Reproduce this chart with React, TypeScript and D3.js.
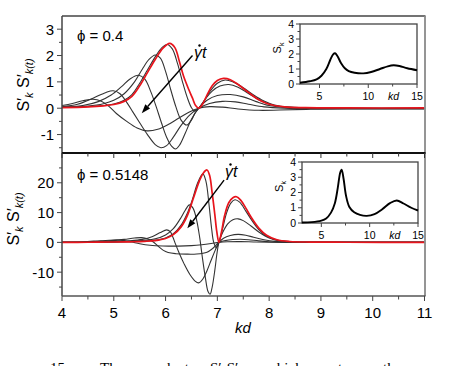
import React from 'react';
import * as d3 from 'd3';

type Pt = [number, number];

// ---------- tick values ----------
const xMajor = [4, 5, 6, 7, 8, 9, 10, 11];
const xMinor = [4.5, 5.5, 6.5, 7.5, 8.5, 9.5, 10.5];
const topYMajor = [-1, 0, 1, 2, 3];
const topYMinor = [-1.5, -0.5, 0.5, 1.5, 2.5];
const botYMajor = [-10, 0, 10, 20];
const botYMinor = [-15, -5, 5, 15, 25];
const insetYMajor = [0, 1, 2, 3, 4];
const insetYMinor = [0.5, 1.5, 2.5, 3.5];
const insetXMajor = [5, 10, 15];
const insetXMinor = [7.5, 12.5];

// ---------- top panel (phi = 0.4) ----------
const topRed: Pt[] = [[4.0,0.02],[4.5,0.05],[4.8,0.09],[5.0,0.14],[5.2,0.26],[5.35,0.45],[5.5,0.85],[5.65,1.35],[5.8,1.85],[5.95,2.28],[6.08,2.46],[6.18,2.3],[6.27,1.75],[6.35,1.2],[6.45,0.7],[6.52,0.38],[6.58,0.1],[6.64,0.0],[6.71,0.14],[6.8,0.5],[6.9,0.85],[7.0,1.05],[7.12,1.13],[7.25,1.08],[7.4,0.9],[7.6,0.6],[7.8,0.32],[8.0,0.15],[8.3,0.05],[8.7,0.02],[9.5,0.01],[11,0.01]];
const topC1: Pt[] = [[4.0,0.03],[4.5,0.06],[4.8,0.1],[5.0,0.16],[5.2,0.3],[5.35,0.52],[5.5,0.95],[5.65,1.45],[5.8,1.95],[5.93,2.3],[6.03,2.42],[6.13,2.25],[6.23,1.7],[6.32,1.05],[6.42,0.4],[6.5,0.02],[6.56,-0.1],[6.64,0.0],[6.72,0.2],[6.85,0.62],[7.0,0.95],[7.15,1.07],[7.3,1.0],[7.5,0.78],[7.7,0.5],[7.9,0.27],[8.1,0.12],[8.4,0.04],[9,0.01],[11,0.0]];
const topC2: Pt[] = [[4.0,0.03],[4.5,0.08],[4.8,0.17],[5.0,0.3],[5.2,0.55],[5.4,1.0],[5.55,1.48],[5.68,1.85],[5.8,2.02],[5.9,1.9],[6.0,1.4],[6.1,0.7],[6.2,0.05],[6.3,-0.45],[6.41,-0.64],[6.5,-0.45],[6.57,-0.18],[6.64,0.0],[6.75,0.3],[6.9,0.65],[7.05,0.84],[7.22,0.9],[7.4,0.8],[7.6,0.56],[7.85,0.27],[8.1,0.1],[8.4,0.03],[9,0.0],[11,0.0]];
const topC3: Pt[] = [[4.0,0.04],[4.4,0.1],[4.7,0.25],[4.95,0.5],[5.15,0.82],[5.32,1.12],[5.48,1.25],[5.6,1.1],[5.72,0.6],[5.82,0.05],[5.92,-0.55],[6.02,-1.1],[6.12,-1.45],[6.19,-1.55],[6.27,-1.4],[6.38,-0.95],[6.5,-0.42],[6.64,0.0],[6.8,0.3],[7.0,0.48],[7.25,0.52],[7.5,0.43],[7.75,0.25],[8.0,0.1],[8.3,0.03],[9,0.0],[11,-0.01]];
const topC4: Pt[] = [[4.0,0.06],[4.3,0.15],[4.6,0.38],[4.85,0.6],[4.99,0.66],[5.12,0.55],[5.25,0.22],[5.37,-0.15],[5.5,-0.55],[5.65,-1.0],[5.8,-1.38],[5.91,-1.5],[6.02,-1.42],[6.15,-1.1],[6.3,-0.65],[6.47,-0.25],[6.64,0.0],[6.85,0.18],[7.1,0.26],[7.35,0.24],[7.6,0.15],[7.9,0.05],[8.3,0.0],[9,-0.02],[11,-0.02]];
const topC5: Pt[] = [[4.0,0.1],[4.2,0.18],[4.4,0.28],[4.6,0.34],[4.75,0.27],[4.9,0.08],[5.05,-0.2],[5.25,-0.5],[5.45,-0.75],[5.64,-0.86],[5.85,-0.8],[6.05,-0.62],[6.25,-0.38],[6.45,-0.15],[6.64,0.0],[6.85,0.06],[7.1,0.04],[7.4,-0.03],[7.8,-0.08],[8.2,-0.07],[8.8,-0.04],[9.5,-0.03],[11,-0.03]];

// ---------- bottom panel (phi = 0.5148) ----------
const botRed: Pt[] = [[4.0,0.0],[4.5,0.05],[5.0,0.12],[5.3,0.2],[5.6,0.35],[5.8,0.6],[6.0,1.3],[6.15,2.6],[6.3,5.2],[6.42,9.0],[6.54,15.0],[6.65,20.5],[6.73,23.3],[6.8,24.3],[6.85,22.5],[6.9,16.5],[6.95,9.5],[6.99,3.5],[7.03,0.0],[7.08,3.5],[7.14,9],[7.22,13.3],[7.3,15.0],[7.37,15.3],[7.45,14.2],[7.55,11.5],[7.65,8.5],[7.8,4.8],[7.95,2.4],[8.15,0.9],[8.4,0.3],[8.8,0.1],[9.5,0.05],[11,0.02]];
const botC1: Pt[] = [[4.0,0.0],[4.5,0.05],[5.0,0.14],[5.3,0.25],[5.6,0.45],[5.8,0.75],[6.0,1.5],[6.15,2.9],[6.3,5.8],[6.42,9.8],[6.52,14.5],[6.62,20.0],[6.72,23.0],[6.78,20.5],[6.84,12.5],[6.89,4.5],[6.93,0.0],[6.98,-1.8],[7.03,0.0],[7.1,4.5],[7.18,10.0],[7.26,13.2],[7.34,14.3],[7.43,13.5],[7.55,10.5],[7.65,7.8],[7.8,4.3],[7.95,2.1],[8.15,0.8],[8.4,0.25],[8.8,0.08],[11,0.02]];
const botC2: Pt[] = [[4.0,0.0],[4.5,0.06],[5.0,0.18],[5.3,0.35],[5.6,0.7],[5.8,1.2],[6.0,2.5],[6.15,4.6],[6.28,7.8],[6.38,10.8],[6.46,12.6],[6.53,11.5],[6.6,7.5],[6.66,1.5],[6.71,-5],[6.77,-12],[6.82,-16.5],[6.86,-17.4],[6.9,-15],[6.95,-9.5],[6.99,-4],[7.03,0.0],[7.1,3.2],[7.2,6.2],[7.3,7.6],[7.4,7.9],[7.5,7.3],[7.65,5.5],[7.8,3.5],[8.0,1.5],[8.2,0.5],[8.5,0.12],[9,0.03],[11,0.0]];
const botC3: Pt[] = [[4.0,0.0],[4.5,0.08],[5.0,0.25],[5.3,0.5],[5.55,1.0],[5.75,2.0],[5.9,3.3],[6.02,4.2],[6.09,3.6],[6.14,1.8],[6.19,-0.5],[6.26,-3.5],[6.36,-7.3],[6.47,-10.8],[6.57,-13.0],[6.64,-13.6],[6.72,-12.3],[6.8,-9.5],[6.88,-6.0],[6.96,-2.6],[7.03,0.0],[7.12,1.4],[7.25,2.3],[7.4,2.7],[7.55,2.4],[7.7,1.7],[7.9,0.9],[8.1,0.35],[8.4,0.08],[9,0.0],[11,0.0]];
const botC4: Pt[] = [[4.0,0.0],[4.5,0.15],[4.9,0.5],[5.2,1.0],[5.4,1.45],[5.54,1.6],[5.65,1.2],[5.75,0.3],[5.85,-1.2],[5.95,-2.6],[6.05,-3.4],[6.2,-3.8],[6.4,-3.95],[6.6,-3.9],[6.8,-3.3],[6.9,-2.2],[6.97,-1.0],[7.03,0.0],[7.15,0.6],[7.3,0.95],[7.45,1.05],[7.6,0.9],[7.8,0.5],[8.0,0.22],[8.3,0.05],[9,0.0],[11,0.0]];
const botC5: Pt[] = [[4.0,0.05],[4.4,0.2],[4.75,0.55],[5.06,0.8],[5.2,0.6],[5.35,0.1],[5.5,-0.45],[5.7,-0.95],[5.95,-1.2],[6.25,-1.25],[6.5,-1.1],[6.7,-0.8],[6.88,-0.4],[7.03,0.0],[7.2,0.2],[7.45,0.25],[7.7,0.15],[8.0,0.05],[8.5,0.0],[11,0.0]];

// ---------- insets: S_k ----------
const insetTopSk: Pt[] = [[3,0.08],[4,0.18],[4.7,0.31],[5.2,0.55],[5.7,1.0],[6.1,1.6],[6.4,1.98],[6.6,2.05],[6.85,1.85],[7.2,1.4],[7.6,1.05],[8.0,0.86],[8.6,0.75],[9.5,0.71],[10.3,0.8],[11.2,1.0],[12.0,1.18],[12.6,1.25],[13.2,1.2],[14.0,1.05],[15,0.92]];
const insetBotSk: Pt[] = [[3,0.03],[4,0.06],[5,0.16],[5.5,0.3],[6.0,0.68],[6.4,1.3],[6.7,2.3],[6.95,3.3],[7.1,3.5],[7.3,2.9],[7.55,1.8],[7.9,1.05],[8.4,0.7],[9.0,0.53],[9.7,0.47],[10.5,0.58],[11.3,0.9],[12.1,1.3],[12.8,1.48],[13.5,1.28],[14.3,1.0],[15,0.82]];

// annotation anchors in data units
const topArrow: Pt[] = [[6.52, 2.0], [5.54, -0.19]];
const botArrow: Pt[] = [[7.13, 20.9], [6.42, 4.7]];

const W = 474, H = 366;
const L = 62, R = 424.5, T = 16, MID = 153, B = 296;

const x = d3.scaleLinear().domain([4, 11]).range([L, R]);
const yTop = d3.scaleLinear().domain([-1.7, 3.5]).range([MID, T]);
const yBot = d3.scaleLinear().domain([-18, 30]).range([B, MID]);

const sans = "'Liberation Sans', Arial, Helvetica, sans-serif";

function mkLine(xs: d3.ScaleLinear<number, number>, ys: d3.ScaleLinear<number, number>) {
  return d3.line<Pt>().x(d => xs(d[0])).y(d => ys(d[1])).curve(d3.curveCatmullRom.alpha(0.5));
}

function Arrow({ p0, p1 }: { p0: [number, number]; p1: [number, number] }) {
  const dx = p1[0] - p0[0], dy = p1[1] - p0[1];
  const len = Math.hypot(dx, dy);
  const ux = dx / len, uy = dy / len;
  const hl = 9, hw = 3.2;
  const bx = p1[0] - ux * hl, by = p1[1] - uy * hl;
  const pts = [
    [p1[0], p1[1]],
    [bx - uy * hw, by + ux * hw],
    [bx + uy * hw, by - ux * hw],
  ];
  return (
    <g>
      <line x1={p0[0]} y1={p0[1]} x2={bx} y2={by} stroke="#000" strokeWidth={1.4} />
      <polygon points={pts.map(p => p.join(',')).join(' ')} fill="#000" />
    </g>
  );
}

function GammaT({ px, py }: { px: number; py: number }) {
  return (
    <g>
      <text x={px} y={py} fontFamily={sans} fontSize={16} fontStyle="italic">γt</text>
      <circle cx={px + 5.5} cy={py - 12.5} r={1.2} fill="#000" />
    </g>
  );
}

function Inset({ x0, x1, y0, y1, data }: { x0: number; x1: number; y0: number; y1: number; data: Pt[] }) {
  const ix = d3.scaleLinear().domain([3, 15]).range([x0, x1]);
  const iy = d3.scaleLinear().domain([0, 4]).range([y1, y0]);
  const ln = d3.line<Pt>().x(d => ix(d[0])).y(d => iy(d[1])).curve(d3.curveCatmullRom.alpha(0.5));
  return (
    <g>
      <rect x={x0} y={y0} width={x1 - x0} height={y1 - y0} fill="#fff" stroke="#444" strokeWidth={1.3} />
      <path d={ln(data) || ''} fill="none" stroke="#000" strokeWidth={1.9} />
      {insetYMajor.map(v => (
        <g key={'iym' + v}>
          <line x1={x0 - 4} x2={x0} y1={iy(v)} y2={iy(v)} stroke="#444" strokeWidth={1} />
          <text x={x0 - 6} y={iy(v)} dy="0.35em" textAnchor="end" fontFamily={sans} fontSize={10.5}>{v}</text>
        </g>
      ))}
      {insetYMinor.map(v => (
        <line key={'iyn' + v} x1={x0 - 2.5} x2={x0} y1={iy(v)} y2={iy(v)} stroke="#444" strokeWidth={1} />
      ))}
      {insetXMajor.map(v => (
        <g key={'ixm' + v}>
          <line x1={ix(v)} x2={ix(v)} y1={y1} y2={y1 + 4} stroke="#444" strokeWidth={1} />
          <text x={ix(v)} y={y1 + 15.5} textAnchor="middle" fontFamily={sans} fontSize={10.5}>{v}</text>
        </g>
      ))}
      {insetXMinor.map(v => (
        <line key={'ixn' + v} x1={ix(v)} x2={ix(v)} y1={y1} y2={y1 + 2.5} stroke="#444" strokeWidth={1} />
      ))}
      <text x={ix(12.6)} y={y1 + 15.5} textAnchor="middle" fontFamily={sans} fontSize={10.5} fontStyle="italic">kd</text>
      <text transform={`translate(${x0 - 19},${(y0 + y1) / 2 - 6}) rotate(-90)`} textAnchor="middle" fontFamily={sans} fontSize={11}>
        <tspan>S</tspan>
        <tspan dy={3} fontSize={7}>k</tspan>
      </text>
    </g>
  );
}

function YTitle({ bx, cy }: { bx: number; cy: number }) {
  return (
    <text transform={`translate(${bx},${cy}) rotate(-90)`} textAnchor="middle" fontFamily={sans} fontSize={16}>
      <tspan>S′</tspan>
      <tspan dy={4} fontSize={11} fontStyle="italic">k</tspan>
      <tspan dy={-4}> S′</tspan>
      <tspan dy={4} fontSize={11} fontStyle="italic">k(t)</tspan>
    </text>
  );
}

export default function App() {
  const lt = mkLine(x, yTop);
  const lb = mkLine(x, yBot);
  const topBlack = [topC1, topC2, topC3, topC4, topC5];
  const botBlack = [botC1, botC2, botC3, botC4, botC5];

  return (
    <svg width={W} height={H} viewBox={`0 0 ${W} ${H}`} style={{ position: 'absolute', left: 0, top: 0, background: '#fff' }}>
      <defs>
        <clipPath id="clipTop"><rect x={L} y={T} width={R - L} height={MID - T} /></clipPath>
        <clipPath id="clipBot"><rect x={L} y={MID} width={R - L} height={B - MID} /></clipPath>
      </defs>
      <rect x={0} y={0} width={W} height={H} fill="#fff" />

      {/* curves */}
      <g clipPath="url(#clipTop)">
        {topBlack.map((c, i) => (
          <path key={'tb' + i} d={lt(c) || ''} fill="none" stroke="#333" strokeWidth={1.1} />
        ))}
        <path d={lt(topRed) || ''} fill="none" stroke="#e8141c" strokeWidth={1.7} />
      </g>
      <g clipPath="url(#clipBot)">
        {botBlack.map((c, i) => (
          <path key={'bb' + i} d={lb(c) || ''} fill="none" stroke="#333" strokeWidth={1.1} />
        ))}
        <path d={lb(botRed) || ''} fill="none" stroke="#e8141c" strokeWidth={1.7} />
      </g>

      {/* insets */}
      <Inset x0={300} x1={417} y0={24} y1={84} data={insetTopSk} />
      <Inset x0={302} x1={418} y0={162} y1={223} data={insetBotSk} />

      {/* frame */}
      <line x1={L} x2={R + 1} y1={T} y2={T} stroke="#444" strokeWidth={1.5} />
      <line x1={L} x2={L} y1={T} y2={B} stroke="#444" strokeWidth={1.5} />
      <line x1={R + 0.5} x2={R + 0.5} y1={T} y2={B} stroke="#8a8a8a" strokeWidth={1.8} />
      <line x1={L} x2={R + 1} y1={MID} y2={MID} stroke="#111" strokeWidth={1.8} />
      <line x1={L} x2={R + 1} y1={B} y2={B} stroke="#555" strokeWidth={1.5} />

      {/* x ticks: divider (into bottom panel) and bottom axis */}
      {xMajor.map(v => (
        <g key={'xm' + v}>
          <line x1={x(v)} x2={x(v)} y1={MID} y2={MID + 5} stroke="#333" strokeWidth={1} />
          <line x1={x(v)} x2={x(v)} y1={B} y2={B + 5} stroke="#444" strokeWidth={1} />
          <text x={x(v)} y={318} textAnchor="middle" fontFamily={sans} fontSize={15}>{v}</text>
        </g>
      ))}
      {xMinor.map(v => (
        <g key={'xn' + v}>
          <line x1={x(v)} x2={x(v)} y1={MID} y2={MID + 3.5} stroke="#333" strokeWidth={1} />
          <line x1={x(v)} x2={x(v)} y1={B} y2={B + 3.5} stroke="#444" strokeWidth={1} />
        </g>
      ))}
      <text x={243} y={333} textAnchor="middle" fontFamily={sans} fontSize={15} fontStyle="italic">kd</text>

      {/* y ticks top */}
      {topYMajor.map(v => (
        <g key={'tym' + v}>
          <line x1={L - 5} x2={L} y1={yTop(v)} y2={yTop(v)} stroke="#444" strokeWidth={1} />
          <text x={L - 8} y={yTop(v)} dy="0.36em" textAnchor="end" fontFamily={sans} fontSize={15}>{v}</text>
        </g>
      ))}
      {topYMinor.map(v => (
        <line key={'tyn' + v} x1={L - 3} x2={L} y1={yTop(v)} y2={yTop(v)} stroke="#444" strokeWidth={1} />
      ))}
      {/* y ticks bottom */}
      {botYMajor.map(v => (
        <g key={'bym' + v}>
          <line x1={L - 5} x2={L} y1={yBot(v)} y2={yBot(v)} stroke="#444" strokeWidth={1} />
          <text x={L - 8} y={yBot(v)} dy="0.36em" textAnchor="end" fontFamily={sans} fontSize={15}>{v}</text>
        </g>
      ))}
      {botYMinor.map(v => (
        <line key={'byn' + v} x1={L - 3} x2={L} y1={yBot(v)} y2={yBot(v)} stroke="#444" strokeWidth={1} />
      ))}

      {/* axis titles */}
      <YTitle bx={29} cy={85} />
      <YTitle bx={19} cy={219} />

      {/* panel labels */}
      <text x={77} y={40.5} fontFamily={sans} fontSize={15}>ϕ = 0.4</text>
      <text x={77} y={180} fontFamily={sans} fontSize={15}>ϕ = 0.5148</text>

      {/* arrows */}
      <Arrow p0={[x(topArrow[0][0]), yTop(topArrow[0][1])]} p1={[x(topArrow[1][0]), yTop(topArrow[1][1])]} />
      <GammaT px={194} py={58} />
      <Arrow p0={[x(botArrow[0][0]), yBot(botArrow[0][1])]} p1={[x(botArrow[1][0]), yBot(botArrow[1][1])]} />
      <GammaT px={225} py={177} />

      {/* caption, mostly cut off */}
      <g fontFamily="'Liberation Serif', 'DejaVu Serif', serif" fontSize={15}>
        <text x={50} y={373}>15.</text>
        <text x={100} y={373}>The</text>
        <text x={143} y={373}>product</text>
        <text x={210} y={373}>S′<tspan fontSize={10} dy={3}>k</tspan><tspan dy={-3}>S′</tspan><tspan fontSize={10} dy={3}>k</tspan></text>
        <text x={266} y={373}>which</text>
        <text x={338} y={373}>to</text>
        <text x={383} y={373}>the</text>
      </g>
    </svg>
  );
}
